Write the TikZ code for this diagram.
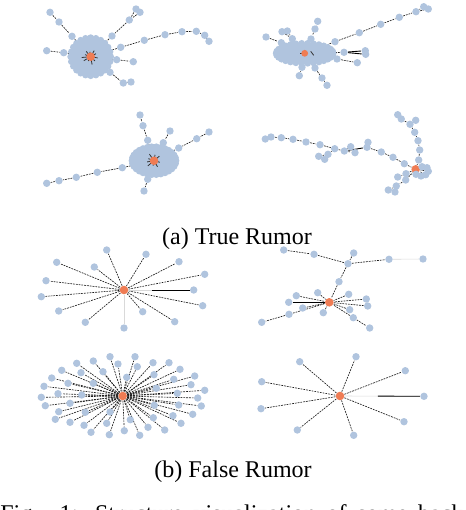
\documentclass[tikz,border=0pt]{standalone}
\usepackage{fontspec}
\setmainfont{Liberation Serif}
\usetikzlibrary{calc}
\pgfdeclarelayer{background}
\pgfsetlayers{background,main}
\definecolor{leafc}{RGB}{176,196,222}
\definecolor{srcc}{RGB}{239,124,84}
\tikzset{
  leaf/.style={circle,fill=leafc,inner sep=0pt,minimum size=3.7pt},
  src/.style={circle,fill=srcc,inner sep=0pt,minimum size=4.3pt},
  edge/.style={line width=0.32pt,black!90,dash pattern=on 0.9pt off 0.5pt},
  tie/.style={line width=0.45pt,black},
  faint/.style={line width=0.3pt,black!15},
  spoke/.style={line width=0.4pt,black!80},
  captext/.style={font=\fontsize{12}{14}\selectfont,inner sep=0pt}
}
\begin{document}
\begin{tikzpicture}[x=0.5pt,y=-0.5pt]
\clip (0,0) rectangle (466,510);
% (a) true rumor, top left
\coordinate (ca) at (90.7,56.7);
\fill[leafc] (ca) ellipse (20 and 19);
\foreach \t in {0,15,...,345} \fill[leafc] ($(ca)+(\t:20 and 19)$) circle (3.4);
\foreach \i/\x/\y in {1/50/12.3,2/59/22,3/72/36.3,4/46.7/50.7,5/63.7/52.7,6/136/9,7/140/12.3,
  8/129.3/20,9/112/36,10/120.7/47.3,11/144.3/40.3,12/165/34.7,13/182/31.7,14/196.3/31.3,
  15/204.7/35.3,16/209/41.3,17/116.7/59.7,18/133.3/61.7,19/110/72.3,20/123.3/83,21/131/82}
  \node[leaf] (a\i) at (\x,\y) {};
\foreach \t/\l in {10/7,45/6,80/8,120/5,150/8,175/9,200/6,230/7,260/5,300/7,330/6}
  \draw[spoke] (ca) -- ++(\t:\l);
\node[src] (a0) at (ca) {};
% (a) top right
\coordinate (cb) at (304.7,53.3);
\fill[leafc] (cb) ellipse (28.5 and 10);
\foreach \t in {0,12,...,348} \fill[leafc] ($(cb)+(\t:28.5 and 10)$) circle (3.4);
\foreach \i/\x/\y in {1/266/37,2/281.3/42.7,3/282/31.7,4/287.3/31,5/292.3/38.7,6/317.7/21.3,
  7/315/29,8/311/39,9/335/41.7,10/359.3/32.7,11/380.7/24.3,12/399.3/17.3,13/416/11.7,
  14/423.7/6.7,15/428.3/9,16/344/52.3,17/365.3/50.7,18/365.7/54.3,19/337/59,20/357.3/62.7,
  21/302/67.3,22/299.3/75.7,23/315/68,24/322/78,25/327/85.3}
  \node[leaf] (b\i) at (\x,\y) {};
\draw[spoke] (cb) -- ++(-5,0);
\draw[spoke] ($(cb)+(6,-2)$) -- ++(3,4);
\node[src,minimum size=3.4pt] (b0) at (cb) {};
% (a) bottom left
\coordinate (cc) at (154,160.7);
\fill[leafc] (cc) ellipse (22 and 14);
\foreach \t in {0,12,...,348} \fill[leafc] ($(cc)+(\t:22 and 14)$) circle (3.4);
\foreach \i/\x/\y in {1/140/115,2/143/125.7,3/147.7/140.3,4/170/131,5/163.3/142.7,6/209/132,
  7/196.7/138.7,8/178.7/148,9/122.3/167.7,10/97.3/172.3,11/76.3/177.3,12/59/180.7,
  13/46.7/183.3,14/147.7/179.3,15/144/191}
  \node[leaf] (c\i) at (\x,\y) {};
\foreach \t/\l in {15/6,60/7,100/5,140/8,170/7,200/6,235/8,280/6,320/7}
  \draw[spoke] (cc) -- ++(\t:\l);
\node[src] (c0) at (cc) {};
% (a) bottom right
\node[src] (d0) at (415.7,169.3) {};
\foreach \i/\x/\y in {1/265.3/139,2/271/137,3/281.3/137.7,4/293/139.3,5/306/142,6/320/144.7,
  7/334.7/148.7,8/318.7/156.3,9/328/154.3,10/324.7/159.3,11/344.3/151,12/350.7/146.7,
  13/355/152.7,14/368/142.3,15/367/147.3,16/381.3/152,17/393/157.3,18/404.3/163.7,
  19/397.7/114.7,20/401.3/119,21/410/124.3,22/415.7/120.3,23/414.7/132.3,24/418/140.7,
  25/419.7/150,26/418.7/160,27/422/166.7,28/427/167.7,29/428.3/171.3,30/425.7/174.7,
  31/421/176,32/416/174.3,33/406/173.7,34/397.7/177,35/405.7/180,36/396.3/186,
  37/388.3/190,38/395/192}
  \node[leaf] (d\i) at (\x,\y) {};
% (b) false rumor, top left
\node[src] (e0) at (124,290) {};
\foreach \i/\x/\y in {1/106.7/250,2/146/254.3,3/56.7/262.3,4/94.3/267,5/179/261.7,6/46/280.7,
  7/204.7/274.3,8/193.7/290,9/41.3/296.7,10/202.7/305.7,11/58.7/311,12/142.7/311.7,
  13/85.3/322.3,14/174.7/321.7,15/124/328}
  \node[leaf] (e\i) at (\x,\y) {};
% (b) top right
\node[src] (f0) at (329.3,302.3) {};
\foreach \i/\x/\y in {1/283.7/250,2/314/254.3,3/353.7/253,4/348/263.7,5/389/259.3,6/423/259,
  7/339/281.7,8/296.3/295.7,9/317.7/292.7,10/348.7/294.3,11/366.3/299,12/288.7/302.3,
  13/302.7/308,14/367.7/306,15/349.7/309.7,16/323.3/312.7,17/289/314.3,18/261.7/322.3,
  19/353.3/317.7,20/369.7/328}
  \node[leaf] (f\i) at (\x,\y) {};
% (b) bottom left
\node[src] (g0) at (122.7,396) {};
\foreach \i/\x/\y in {1/110/356.7,2/135/356.7,3/76.7/363.3,4/93.3/361,5/118/364,6/137.3/366.7,
  7/153/362.7,8/169/362.7,9/61.7/370.3,10/81/372.7,11/103/371.7,12/154/374.7,13/180/369.3,
  14/51.7/378,15/68/383.3,16/93.3/383.3,17/126.7/377.3,18/173.7/379.3,19/194.7/376,
  20/44/386.3,21/156.3/388.3,22/191/384.7,23/58/393.7,24/81.7/395,25/177.3/393.3,
  26/204.7/390.3,27/41.3/397.3,28/197.7/398,29/45.3/405.7,30/70/403.3,31/154.3/405.3,
  32/178.7/405,33/201.3/406,34/58.7/411.7,35/85.3/412.3,36/110/412,37/173/415.7,
  38/192.7/414.3,39/55.3/419.3,40/70/422.3,41/106.7/423.3,42/130.3/419.7,43/153.3/417.7,
  44/84/425.3,45/124.3/430.7,46/148/427.3,47/181/423.3,48/91/432.3,49/109.3/434.7,
  50/139.7/435.3,51/164.7/430}
  \node[leaf] (g\i) at (\x,\y) {};
% (b) bottom right
\node[src] (h0) at (340,396) {};
\foreach \i/\x/\y in {1/299.7/361.7,2/356/356.7,3/405.3/370.7,4/261.7/381.7,5/424/396.3,
  6/261/408.7,7/404/421.7,8/297.3/430,9/353.7/435.3}
  \node[leaf] (h\i) at (\x,\y) {};
% edges
\begin{pgfonlayer}{background}
\foreach \u/\v in {1/2,2/3,3/0,4/5,5/0,6/8,7/8,8/9,9/0,10/0,10/11,11/12,12/13,13/14,14/15,
  15/16,17/0,17/18,19/0,19/20,20/21}
  \draw[edge] (a\u) -- (a\v);
\foreach \u/\v in {1/2,2/0,3/5,4/5,5/0,6/7,7/8,8/0,9/0,9/10,10/11,11/12,12/13,13/14,13/15,
  16/0,19/0,19/20,21/0,21/22,23/0,23/24,24/25}
  \draw[edge] (b\u) -- (b\v);
\draw[tie] (b16) -- (b17);
\draw[tie] (b16) -- (b18);
\foreach \u/\v in {1/2,2/3,3/0,4/5,5/0,6/7,7/8,8/0,9/0,9/10,10/11,11/12,12/13,14/0,14/15}
  \draw[edge] (c\u) -- (c\v);
\foreach \u/\v in {1/2,2/3,3/4,4/5,5/6,6/7,7/11,11/12,11/13,14/15,15/16,16/17,17/18,18/0,
  8/9,9/10,9/7,19/20,20/21,22/21,21/23,23/24,24/25,25/26,26/0,27/0,28/0,29/0,30/0,31/0,
  32/0,33/0,33/34,35/0,35/36,36/37,36/38}
  \draw[edge] (d\u) -- (d\v);
\draw[tie] (d11) -- (d15);
\foreach \i in {1,...,7,9,10,11,12,13,14}
  \draw[edge] (e0) -- (e\i);
\draw[faint] (e0) -- (e8);
\draw[tie] ($(e0)!0.4!(e8)$) -- (e8);
\draw[faint] (e0) -- (e15);
\foreach \u/\v in {1/2,2/4,3/4,4/5,4/7,7/0,8/0,9/0,10/0,11/0,13/0,14/0,15/0,16/0,17/0,
  17/18,19/0,19/20}
  \draw[edge] (f\u) -- (f\v);
\draw[faint] (f5) -- (f6);
\draw[tie] (f12) -- (f0);
\foreach \i in {1,...,51}
  \draw[edge] (g0) -- (g\i);
\foreach \i in {1,2,3,4,6,7,8,9}
  \draw[edge] (h0) -- (h\i);
\draw[faint] (h0) -- (h5);
\draw[tie] ($(h0)!0.45!(h5)$) -- (h5);
\end{pgfonlayer}
% captions
\node[captext,anchor=base] (capa) at (237,244) {(a) True Rumor};
\node[captext,anchor=base] (capb) at (233,477.5) {(b) False Rumor};
\node[captext,anchor=base west] (fig) at (0,521)
  {\hbox to 231.5pt{Fig. 1: Structure visualization of some back}};
\end{tikzpicture}
\end{document}
